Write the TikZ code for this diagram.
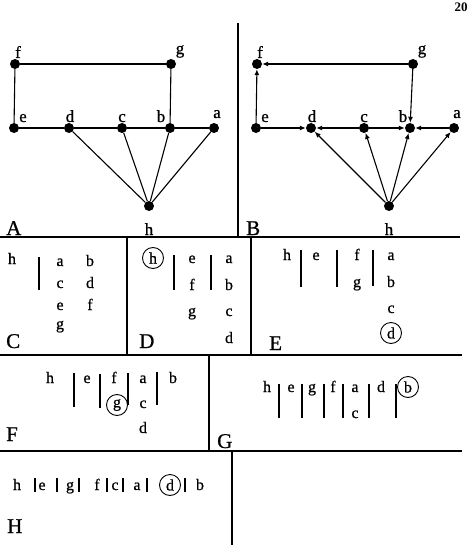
\documentclass[tikz,border=0pt]{standalone}
\usepackage{fontspec}
\setmainfont{Liberation Serif}
\newfontfamily\scanfont{Liberation Serif}[FakeBold=0.8]
\usetikzlibrary{arrows.meta}
\begin{document}
\begin{tikzpicture}[x=1pt,y=-1pt,
  vdot/.style={circle,fill=black,inner sep=0pt,minimum size=10pt},
  glab/.style={font=\scanfont\fontsize{17}{17}\selectfont,anchor=base,inner sep=0pt},
  tlab/.style={font=\scanfont\fontsize{16}{16}\selectfont,anchor=base,inner sep=0pt},
  plab/.style={font=\scanfont\fontsize{21}{21}\selectfont,anchor=base west,inner sep=0pt},
  ring/.style={circle,draw,line width=0.9pt,minimum size=21pt,inner sep=0pt,font=\scanfont\fontsize{16}{16}\selectfont},
  edge/.style={line width=1.1pt},
  arr/.style={line width=1.1pt,-{Latex[length=6pt,width=5pt]}},
  divider/.style={line width=1.3pt},
  bar/.style={line width=1.3pt}]
\useasboundingbox (0,0) rectangle (474,545);
% page number
\node[font=\bfseries\fontsize{13}{13}\selectfont,anchor=base,inner sep=0pt] (pg) at (461,12) {20};
% dividers
\coordinate (d1a) at (0,237); \coordinate (d1b) at (460,237);
\coordinate (d2a) at (0,355); \coordinate (d2b) at (462,355);
\coordinate (d3a) at (0,451); \coordinate (d3b) at (462,451);
\coordinate (v1a) at (238,23); \coordinate (v1b) at (238,237);
\coordinate (v2a) at (127,237); \coordinate (v2b) at (127,355);
\coordinate (v3a) at (251,237); \coordinate (v3b) at (251,355);
\coordinate (v4a) at (209,355); \coordinate (v4b) at (209,451);
\coordinate (v5a) at (232,451); \coordinate (v5b) at (232,545);
\draw[divider] (d1a) -- (d1b);
\draw[divider] (d2a) -- (d2b);
\draw[divider] (d3a) -- (d3b);
\draw[divider] (v1a) -- (v1b);
\draw[divider] (v2a) -- (v2b);
\draw[divider] (v3a) -- (v3b);
\draw[divider] (v4a) -- (v4b);
\draw[divider] (v5a) -- (v5b);
% ---------- Panel A ----------
\node[vdot] (Af) at (15,64) {};
\node[vdot] (Ag) at (171,64) {};
\node[vdot] (Ae) at (14,128) {};
\node[vdot] (Ad) at (69,128) {};
\node[vdot] (Ac) at (122,128) {};
\node[vdot] (Ab) at (170,128) {};
\node[vdot] (Aa) at (214,128) {};
\node[vdot] (Ah) at (149,206) {};
\node[glab] (lAf) at (18,58) {f};
\node[glab] (lAg) at (180,54) {g};
\node[glab] (lAe) at (23,122) {e};
\node[glab] (lAd) at (70,122) {d};
\node[glab] (lAc) at (122,122) {c};
\node[glab] (lAb) at (161,122) {b};
\node[glab] (lAa) at (217,118) {a};
\node[glab] (lAh) at (149,235) {h};
\node[plab] (pA) at (6,235) {A};
\draw[edge] (Af) -- (Ag);
\draw[edge] (Af) -- (Ae);
\draw[edge] (Ag) -- (Ab);
\draw[edge] (Ae) -- (Ad);
\draw[edge] (Ad) -- (Ac);
\draw[edge] (Ac) -- (Ab);
\draw[edge] (Ab) -- (Aa);
\draw[edge] (Ah) -- (Ad);
\draw[edge] (Ah) -- (Ac);
\draw[edge] (Ah) -- (Ab);
\draw[edge] (Ah) -- (Aa);
% ---------- Panel B ----------
\node[vdot] (Bf) at (257,64) {};
\node[vdot] (Bg) at (413,64) {};
\node[vdot] (Be) at (256,128) {};
\node[vdot] (Bd) at (311,128) {};
\node[vdot] (Bc) at (364,128) {};
\node[vdot] (Bb) at (410,128) {};
\node[vdot] (Ba) at (454,128) {};
\node[vdot] (Bh) at (389,206) {};
\node[glab] (lBf) at (260,58) {f};
\node[glab] (lBg) at (422,54) {g};
\node[glab] (lBe) at (265,122) {e};
\node[glab] (lBd) at (312,122) {d};
\node[glab] (lBc) at (364,122) {c};
\node[glab] (lBb) at (403,122) {b};
\node[glab] (lBa) at (457,118) {a};
\node[glab] (lBh) at (389,235) {h};
\node[plab] (pB) at (246,235) {B};
\draw[arr] (Bg) -- (Bf);
\draw[arr] (Be) -- (Bf);
\draw[arr] (Bg) -- (Bb);
\draw[arr] (Be) -- (Bd);
\draw[arr] (Bc) -- (Bd);
\draw[arr] (Bc) -- (Bb);
\draw[arr] (Ba) -- (Bb);
\draw[arr] (Bh) -- (Bd);
\draw[arr] (Bh) -- (Bc);
\draw[arr] (Bh) -- (Bb);
\draw[arr] (Bh) -- (Ba);
% ---------- Panel C ----------
\node[tlab] (Ch) at (12,264) {h};
\coordinate (Cb1t) at (39,257); \coordinate (Cb1b) at (39,290);
\draw[bar] (Cb1t) -- (Cb1b);
\node[tlab] (Ca) at (60,266) {a};
\node[tlab] (Cbb) at (90,266) {b};
\node[tlab] (Cc) at (60,288) {c};
\node[tlab] (Cd) at (90,288) {d};
\node[tlab] (Ce) at (60,310) {e};
\node[tlab] (Cf) at (90,310) {f};
\node[tlab] (Cg) at (60,329) {g};
\node[plab] (pC) at (6,348) {C};
% ---------- Panel D ----------
\node[ring] (Dh) at (153,258) {h};
\coordinate (Db1t) at (174,255); \coordinate (Db1b) at (174,290);
\coordinate (Db2t) at (211,255); \coordinate (Db2b) at (211,290);
\draw[bar] (Db1t) -- (Db1b);
\draw[bar] (Db2t) -- (Db2b);
\node[tlab] (De) at (192,263) {e};
\node[tlab] (Df) at (192,290) {f};
\node[tlab] (Dg) at (192,316) {g};
\node[tlab] (Da) at (229,263) {a};
\node[tlab] (Dbb) at (229,290) {b};
\node[tlab] (Dc) at (229,316) {c};
\node[tlab] (Dd) at (229,343) {d};
\node[plab] (pD) at (139,348) {D};
% ---------- Panel E ----------
\node[tlab] (Eh) at (287,260) {h};
\node[tlab] (Ee) at (316,260) {e};
\node[tlab] (Ef) at (357,260) {f};
\node[tlab] (Eg) at (357,287) {g};
\node[tlab] (Ea) at (391,260) {a};
\node[tlab] (Ebb) at (391,287) {b};
\node[tlab] (Ec) at (391,313) {c};
\node[ring] (Ed) at (391,333) {d};
\coordinate (Eb1t) at (301,250); \coordinate (Eb1b) at (301,287);
\coordinate (Eb2t) at (337,250); \coordinate (Eb2b) at (337,287);
\coordinate (Eb3t) at (373,250); \coordinate (Eb3b) at (373,286);
\draw[bar] (Eb1t) -- (Eb1b);
\draw[bar] (Eb2t) -- (Eb2b);
\draw[bar] (Eb3t) -- (Eb3b);
\node[plab] (pE) at (269,350) {E};
% ---------- Panel F ----------
\node[tlab] (Fh) at (50,383) {h};
\node[tlab] (Fe) at (87,383) {e};
\node[tlab] (Ff) at (114,383) {f};
\node[ring] (Fg) at (117,405) {g};
\node[tlab] (Fa) at (143,383) {a};
\node[tlab] (Fc) at (143,408) {c};
\node[tlab] (Fd) at (143,433) {d};
\node[tlab] (Fbb) at (173,383) {b};
\coordinate (Fb1t) at (74,373); \coordinate (Fb1b) at (74,407);
\coordinate (Fb2t) at (100,374); \coordinate (Fb2b) at (100,408);
\coordinate (Fb3t) at (128,373); \coordinate (Fb3b) at (128,405);
\coordinate (Fb4t) at (157,372); \coordinate (Fb4b) at (157,405);
\draw[bar] (Fb1t) -- (Fb1b);
\draw[bar] (Fb2t) -- (Fb2b);
\draw[bar] (Fb3t) -- (Fb3b);
\draw[bar] (Fb4t) -- (Fb4b);
\node[plab] (pF) at (6,441) {F};
% ---------- Panel G ----------
\node[tlab] (Gh) at (267,392) {h};
\node[tlab] (Ge) at (291,392) {e};
\node[tlab] (Gg) at (312,392) {g};
\node[tlab] (Gf) at (333,392) {f};
\node[tlab] (Ga) at (355,392) {a};
\node[tlab] (Gc) at (355,418) {c};
\node[tlab] (Gd) at (381,392) {d};
\node[ring] (Gbb) at (408,387) {b};
\foreach \i/\x in {1/279,2/302,3/324,4/343,5/369,6/396}{
  \coordinate (Gb\i t) at (\x,384);
  \coordinate (Gb\i b) at (\x,418);
  \draw[bar] (Gb\i t) -- (Gb\i b);
}
\node[plab] (pG) at (217,448) {G};
% ---------- Panel H ----------
\node[tlab] (Hh) at (17,490) {h};
\node[tlab] (He) at (42,490) {e};
\node[tlab] (Hg) at (70,490) {g};
\node[tlab] (Hf) at (97,490) {f};
\node[tlab] (Hc) at (115,490) {c};
\node[tlab] (Ha) at (137,490) {a};
\node[ring] (Hd) at (170,485) {d};
\node[tlab] (Hbb) at (200,490) {b};
\foreach \i/\x in {1/35,2/57,3/79,4/107,5/123,6/147,7/185}{
  \coordinate (Hb\i t) at (\x,478);
  \coordinate (Hb\i b) at (\x,492);
  \draw[bar,line width=1.6pt] (Hb\i t) -- (Hb\i b);
}
\node[plab] (pH) at (7,533) {H};
\end{tikzpicture}
\end{document}
